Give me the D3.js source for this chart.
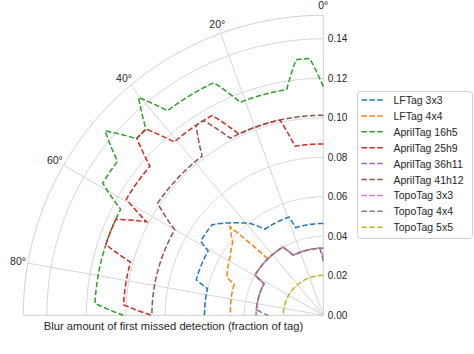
<!DOCTYPE html>
<html><head><meta charset="utf-8">
<script src="https://cdn.jsdelivr.net/npm/d3@7"></script>
<style>
body{margin:0;background:#fff}
svg{display:block}
text{font-family:"Liberation Sans",Arial,sans-serif;fill:#262626}
</style>
</head><body>
<svg id="chart" width="474" height="354"></svg>
<script>
// ---- data (angle in degrees, radius = blur fraction) ----
const seriesNames = ["LFTag 3x3","LFTag 4x4","AprilTag 16h5","AprilTag 25h9","AprilTag 36h11","AprilTag 41h12","TopoTag 3x3","TopoTag 4x4","TopoTag 5x5"];
const seriesColors = ["#1f77b4","#ff7f0e","#2ca02c","#d62728","#9467bd","#8c564b","#e377c2","#7f7f7f","#bcbd22"];
const radialTicks = [0,0.02,0.04,0.06,0.08,0.10,0.12,0.14];
const radialTickLabels = ["0.00","0.02","0.04","0.06","0.08","0.10","0.12","0.14"];
const angleTicks = [0,20,40,60,80];
const angleTickLabels = ["0°","20°","40°","60°","80°"];
const xLabel = "Blur amount of first missed detection (fraction of tag)";

const lftag3x3 = [[0,0.0465],[17.5,0.0465],[19.2,0.0527],[34.1,0.0527],[38.5,0.0594],[45,0.0662],[50.8,0.0726],[58.8,0.0726],[60.8,0.0668],[74.4,0.0668],[77,0.0602],[90,0.0602]];
const lftag4x4 = [[0,0.034],[26.6,0.034],[30.6,0.0401],[44.5,0.0401],[46.5,0.0651],[51,0.059],[58,0.0557],[68.5,0.0525],[70.8,0.0478],[90,0.047]];
const april16h5 = [[0,0.1158],[3.0,0.1302],[6.1,0.1302],[9.2,0.1158],[21.3,0.1158],[25.2,0.1302],[37.3,0.1302],[40.3,0.1447],[43.6,0.1302],[46.6,0.1302],[49.8,0.1447],[53.2,0.1302],[59.1,0.1302],[62.4,0.1158],[87.0,0.1158],[90,0.1013]];
const april25h9 = [[0,0.0868],[9.5,0.0868],[12.5,0.1013],[25.0,0.1013],[29.1,0.1158],[40.7,0.1158],[43.6,0.1302],[46.5,0.1302],[49.3,0.1158],[59.5,0.1158],[62.1,0.1013],[65.2,0.1158],[72.0,0.1158],[74.6,0.1013],[87.0,0.1013],[90,0.0868]];
const april36h11 = [[0,0.034],[26.6,0.034],[30.6,0.0401],[59.5,0.0401],[61.9,0.034],[90,0.034]];
const april41h12 = [[0,0.1013],[27.7,0.1013],[31.6,0.1158],[33.8,0.1158],[37.3,0.1013],[55.9,0.1013],[60.1,0.0868],[90,0.0868]];
const topo3x3 = [[0,0.0295],[3,0.034],[26.6,0.034],[30.6,0.0401],[59.5,0.0401],[61.9,0.034],[90,0.034]];
const topo4x4 = [[0,0.0275],[3,0.034],[26.6,0.034],[30.6,0.0401],[59.5,0.0401],[61.9,0.034],[85,0.034],[90,0.028]];
const topo5x5 = [[0,0.0203],[90,0.0203]];

const seriesData = [lftag3x3,lftag4x4,april16h5,april25h9,april36h11,april41h12,topo3x3,topo4x4,topo5x5];

// ---- layout ----
const cx = 323.3, cy = 315.3, R = 300;
const rMax = d3.max(seriesData.flat(), d => d[1]) * 1.05;
const rScale = d3.scaleLinear().domain([0, rMax]).range([0, R]);
const aScale = d3.scaleLinear().domain([0, 90]).range([0, -Math.PI/2]);

// curve: linear interpolation in (theta, r) space, as a polar plot draws it
class SpiralCurve {
  constructor(ctx){ this._context = ctx; }
  areaStart(){ this._line = 0; }
  areaEnd(){ this._line = NaN; }
  lineStart(){ this._point = 0; }
  lineEnd(){ if (this._line || (this._line !== 0 && this._point === 1)) this._context.closePath(); this._line = 1 - this._line; }
  point(x, y){
    x = +x; y = +y;
    const r = Math.hypot(x, y), a = Math.atan2(x, -y);
    if (this._point === 0) {
      this._point = 1;
      this._line ? this._context.lineTo(x, y) : this._context.moveTo(x, y);
    } else {
      this._point = 2;
      const n = Math.max(1, Math.ceil(Math.abs(a - this._a) / (Math.PI / 360)));
      for (let i = 1; i <= n; i++) {
        const t = i / n, rr = this._r + (r - this._r) * t, aa = this._a + (a - this._a) * t;
        this._context.lineTo(rr * Math.sin(aa), -rr * Math.cos(aa));
      }
    }
    this._r = r; this._a = a;
  }
}
const spiral = ctx => new SpiralCurve(ctx);
const radial = d3.lineRadial().angle(d => aScale(d[0])).radius(d => rScale(d[1])).curve(spiral);

const svg = d3.select("#chart");
const g = svg.append("g").attr("transform", `translate(${cx},${cy})`);

// grid circles
g.selectAll("path.rgrid").data(radialTicks.filter(v => v > 0)).join("path")
  .attr("class","rgrid").attr("d", v => radial([[0, v],[90, v]]))
  .attr("fill","none").attr("stroke","#d0d0d0").attr("stroke-width",0.9);
// angular grid
g.selectAll("line.agrid").data(angleTicks.filter(a => a > 0)).join("line")
  .attr("class","agrid")
  .attr("x1",0).attr("y1",0)
  .attr("x2", a => R * Math.sin(aScale(a))).attr("y2", a => -R * Math.cos(aScale(a)))
  .attr("stroke","#d0d0d0").attr("stroke-width",0.9);
// spines
g.append("path").attr("d", radial([[0, rMax],[90, rMax]])).attr("fill","none").attr("stroke","#d0d0d0").attr("stroke-width",1);
g.append("line").attr("x1",0).attr("y1",0).attr("x2",0).attr("y2",-R).attr("stroke","#d0d0d0").attr("stroke-width",1);
g.append("line").attr("x1",0).attr("y1",0).attr("x2",-R).attr("y2",0).attr("stroke","#d0d0d0").attr("stroke-width",1);

// series
g.selectAll("path.series").data(seriesData).join("path")
  .attr("class","series").attr("d", d => radial(d))
  .attr("fill","none").attr("stroke", (d,i) => seriesColors[i])
  .attr("stroke-width",1.5).attr("stroke-dasharray","5.5,2.4");

// radial tick labels
g.selectAll("text.rlab").data(radialTicks).join("text")
  .attr("class","rlab").attr("x", 4.5).attr("y", v => -rScale(v))
  .attr("dominant-baseline","central").attr("font-size",10)
  .text((v,i) => radialTickLabels[i]);
// angle tick labels
g.selectAll("text.alab").data(angleTicks).join("text")
  .attr("class","alab")
  .attr("x", a => (R + 10) * Math.sin(aScale(a)))
  .attr("y", a => -(R + 10) * Math.cos(aScale(a)))
  .attr("text-anchor","middle").attr("dominant-baseline","central").attr("font-size",10.5)
  .text((a,i) => angleTickLabels[i]);

// x label
svg.append("text").attr("x", 173.5).attr("y", 326).attr("text-anchor","middle")
  .attr("dominant-baseline","central").attr("font-size",11.2).text(xLabel);

// legend
const lg = svg.append("g").attr("transform","translate(357.5,91.5)");
lg.append("rect").attr("width",115).attr("height",147).attr("rx",3)
  .attr("fill","#fff").attr("stroke","#d0d0d0").attr("stroke-width",1);
const rows = lg.selectAll("g.row").data(seriesNames).join("g")
  .attr("class","row").attr("transform",(d,i) => `translate(0,${8.5 + i*15.9})`);
rows.append("line").attr("x1",4).attr("x2",26).attr("y1",0).attr("y2",0)
  .attr("stroke",(d,i) => seriesColors[i]).attr("stroke-width",1.5).attr("stroke-dasharray","5.5,2.4");
rows.append("text").attr("x",36).attr("y",0).attr("dominant-baseline","central")
  .attr("font-size",10.5).text(d => d);
</script>
</body></html>
